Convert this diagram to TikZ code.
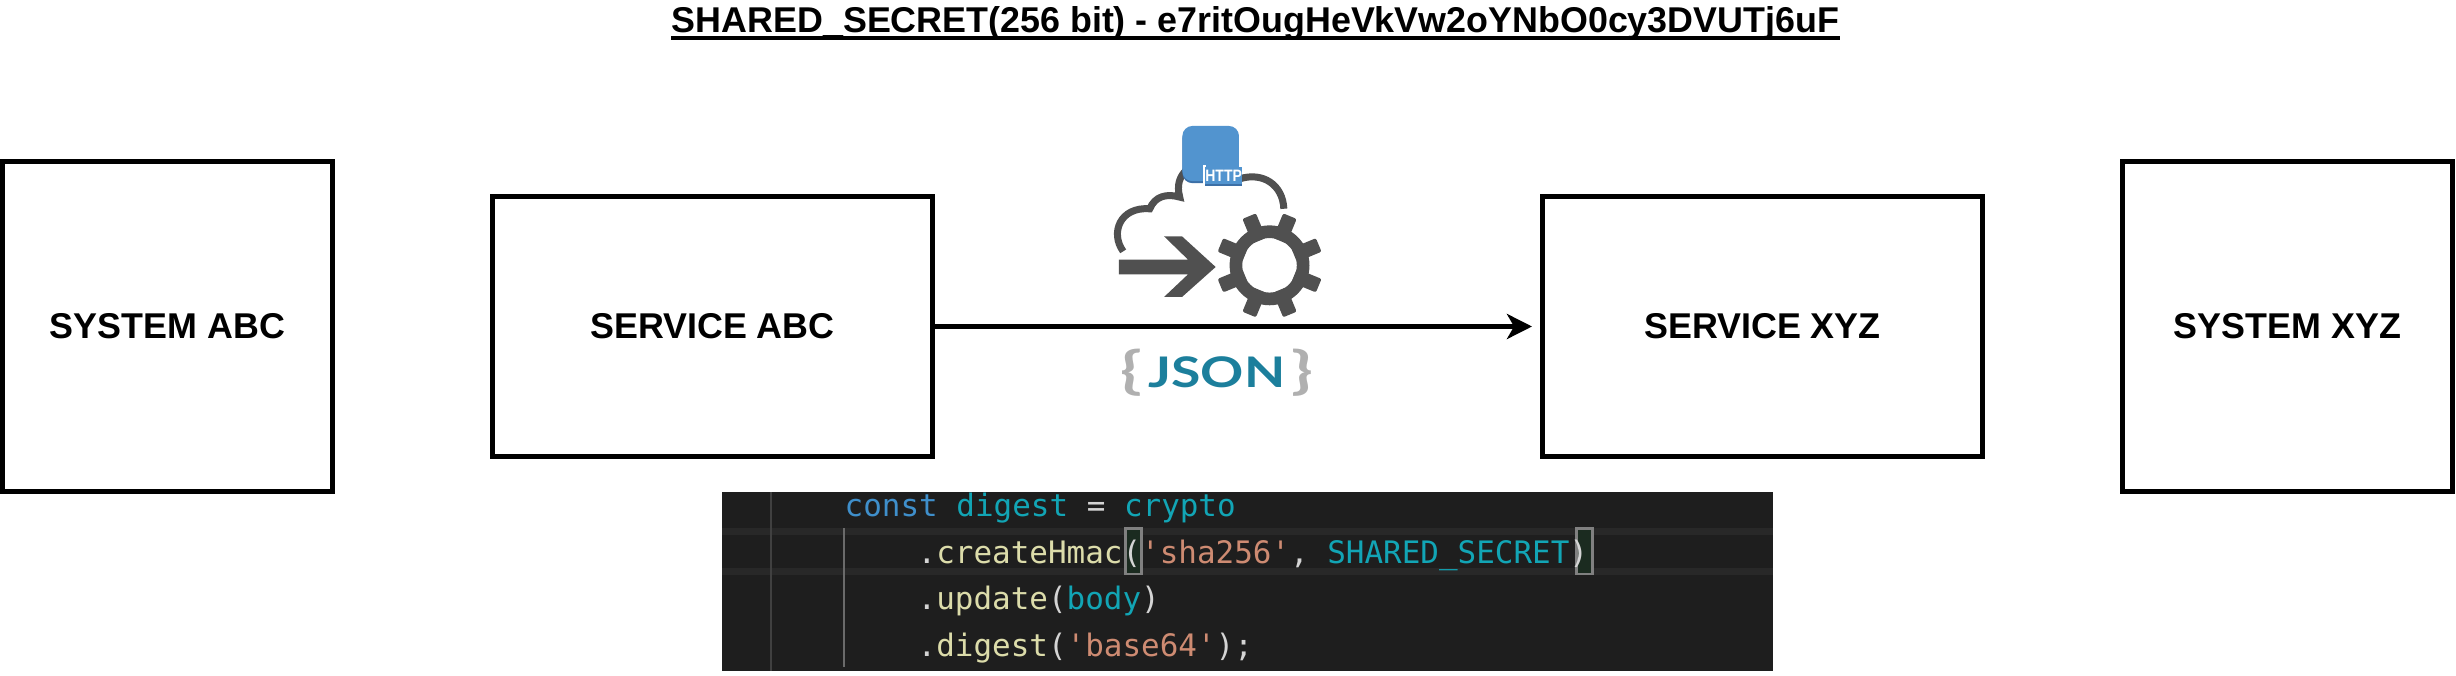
\documentclass[tikz,border=0pt]{standalone}
\usepackage{fontspec}
\setmainfont{Liberation Sans}
\newfontfamily\codefont{DejaVu Sans Mono}
\newfontfamily\jsonfont{Lato}
\usepackage{tikz}
\usetikzlibrary{arrows.meta, positioning, calc}
\definecolor{IconGray}{HTML}{505050}
\definecolor{HttpBlue}{HTML}{5294CF}
\definecolor{HttpDark}{HTML}{3C6FA6}
\definecolor{JsonTeal}{HTML}{1C7F9C}
\definecolor{BraceGray}{HTML}{B0B0B0}
\definecolor{CodeBg}{HTML}{1E1E1E}
\definecolor{CodeBand}{HTML}{282828}
\definecolor{CodeGuide}{HTML}{404040}
\definecolor{CodeGuideOn}{HTML}{6A6A6A}
\definecolor{CodeMatch}{HTML}{1B2B20}
\definecolor{CodeKey}{HTML}{3F8FCB}
\definecolor{CodeVar}{HTML}{12A5B5}
\definecolor{CodeFun}{HTML}{DCDCAA}
\definecolor{CodeStr}{HTML}{CE8B72}
\definecolor{CodeTxt}{HTML}{D4D4D4}
\tikzset{
  sysbox/.style={draw, line width=0.05cm, minimum width=3.30cm, minimum height=3.30cm, font=\bfseries\fontsize{10.2}{12}\selectfont},
  svcbox/.style={draw, line width=0.05cm, minimum width=4.40cm, minimum height=2.60cm, font=\bfseries\fontsize{10.2}{12}\selectfont},
  codeline/.style={anchor=base west, inner sep=0pt, font=\codefont\fontsize{8.8}{10}\selectfont, text=CodeTxt},
  jsonbrace/.style={anchor=base, text=BraceGray, inner sep=0pt, xscale=1.4, font=\jsonfont\bfseries\fontsize{14.5}{16}\selectfont},
}
\begin{document}
\begin{tikzpicture}[>=Stealth]
        \useasboundingbox (0,0) rectangle (24.56,6.75);

        % Title
        \node (title) [anchor=base, inner sep=0pt, font=\bfseries\fontsize{10.2}{12}\selectfont] at (12.555,6.42) {SHARED\_SECRET(256 bit) - e7ritOugHeVkVw2oYNbO0cy3DVUTj6uF};
        \draw [line width=0.04cm] ([yshift=-0.05cm]title.base west) -- ([yshift=-0.05cm]title.base east);

        % Boxes
        \node (sysabc) [sysbox] at (1.675,3.485) {SYSTEM ABC};
        \node (svcabc) [svcbox] at (7.125,3.485) {SERVICE ABC};
        \node (svcxyz) [svcbox] at (17.625,3.485) {SERVICE XYZ};
        \node (sysxyz) [sysbox] at (22.875,3.485) {SYSTEM XYZ};

        % Request
        \draw [-{Stealth[length=0.25cm, width=0.25cm, inset=0.07cm]}, line width=0.055cm, shorten >=0.08cm] (svcabc) -- (svcxyz);

        % Cloud and gear icon
        \begin{scope}[shift={(10.6,5.65)}, x=0.00333cm, y=-0.00333cm]
            \draw [IconGray, line width=0.07cm] (190,425) .. controls (150,370) and (180,290) .. (270,297)
                .. controls (285,260) and (320,250) .. (360,262)
                .. controls (350,225) and (360,200) .. (380,180);
            \draw [IconGray, line width=0.07cm] (540,207) .. controls (610,185) and (670,225) .. (673,297);
            \fill [IconGray] (177,450) -- (385,450) -- (313,380) -- (367,380) -- (468,472) -- (367,562) -- (313,562) -- (385,494) -- (177,494) -- cycle;
            \draw [IconGray, line width=0.127cm] (630,467) circle (101);
            \foreach \a in {22.5,67.5,...,337.5}
                \fill [IconGray, rotate around={\a:(630,467)}, rounded corners=0.02cm] (710,445) rectangle (790,489);
            \fill [HttpDark, rounded corners=0.1cm] (368,54) rectangle (538,220);
            \fill [HttpBlue, rounded corners=0.1cm] (368,48) rectangle (538,214);
            \fill [HttpDark] (436,172) rectangle (548,230);
            \fill [white] (430,165) rectangle (440,224);
            \node (http) [fill=HttpBlue, text=white, inner sep=0pt, minimum width=0.36cm, minimum height=0.175cm, xscale=0.85, font=\bfseries\fontsize{4.7}{5}\selectfont] at (492,197) {HTTP};
            \node (json) [anchor=base, text=JsonTeal, inner sep=0pt, xscale=1.27, font=\jsonfont\bfseries\fontsize{12}{14}\selectfont] at (472,835) {JSON};
            \node (jsonl) [jsonbrace] at (215,838) {\{};
            \node (jsonr) [jsonbrace] at (730,838) {\}};
        \end{scope}

        % Code block
        \fill [CodeBg] (7.22,0.043) rectangle (17.73,1.83);
        \fill [CodeBand] (7.22,1.40) rectangle (17.73,1.47);
        \fill [CodeBand] (7.22,1.00) rectangle (17.73,1.07);
        \draw [CodeGuide, line width=0.02cm] (7.71,0.043) -- (7.71,1.83);
        \draw [CodeGuideOn, line width=0.02cm] (8.44,0.08) -- (8.44,1.47);
        \foreach \x in {11.25,15.76}
            \draw [gray, fill=CodeMatch, line width=0.03cm] (\x,1.01) rectangle (\x+0.16,1.46);
        \node (line1) [codeline] at (8.44,1.585) {\textcolor{CodeKey}{const} \textcolor{CodeVar}{digest} = \textcolor{CodeVar}{crypto}};
        \node (line2) [codeline] at (9.17,1.115) {.\textcolor{CodeFun}{createHmac}(\textcolor{CodeStr}{'sha256'}, \textcolor{CodeVar}{SHARED\_SECRET})};
        \node (line3) [codeline] at (9.17,0.655) {.\textcolor{CodeFun}{update}(\textcolor{CodeVar}{body})};
        \node (line4) [codeline] at (9.17,0.185) {.\textcolor{CodeFun}{digest}(\textcolor{CodeStr}{'base64'});};
\end{tikzpicture}
\end{document}
